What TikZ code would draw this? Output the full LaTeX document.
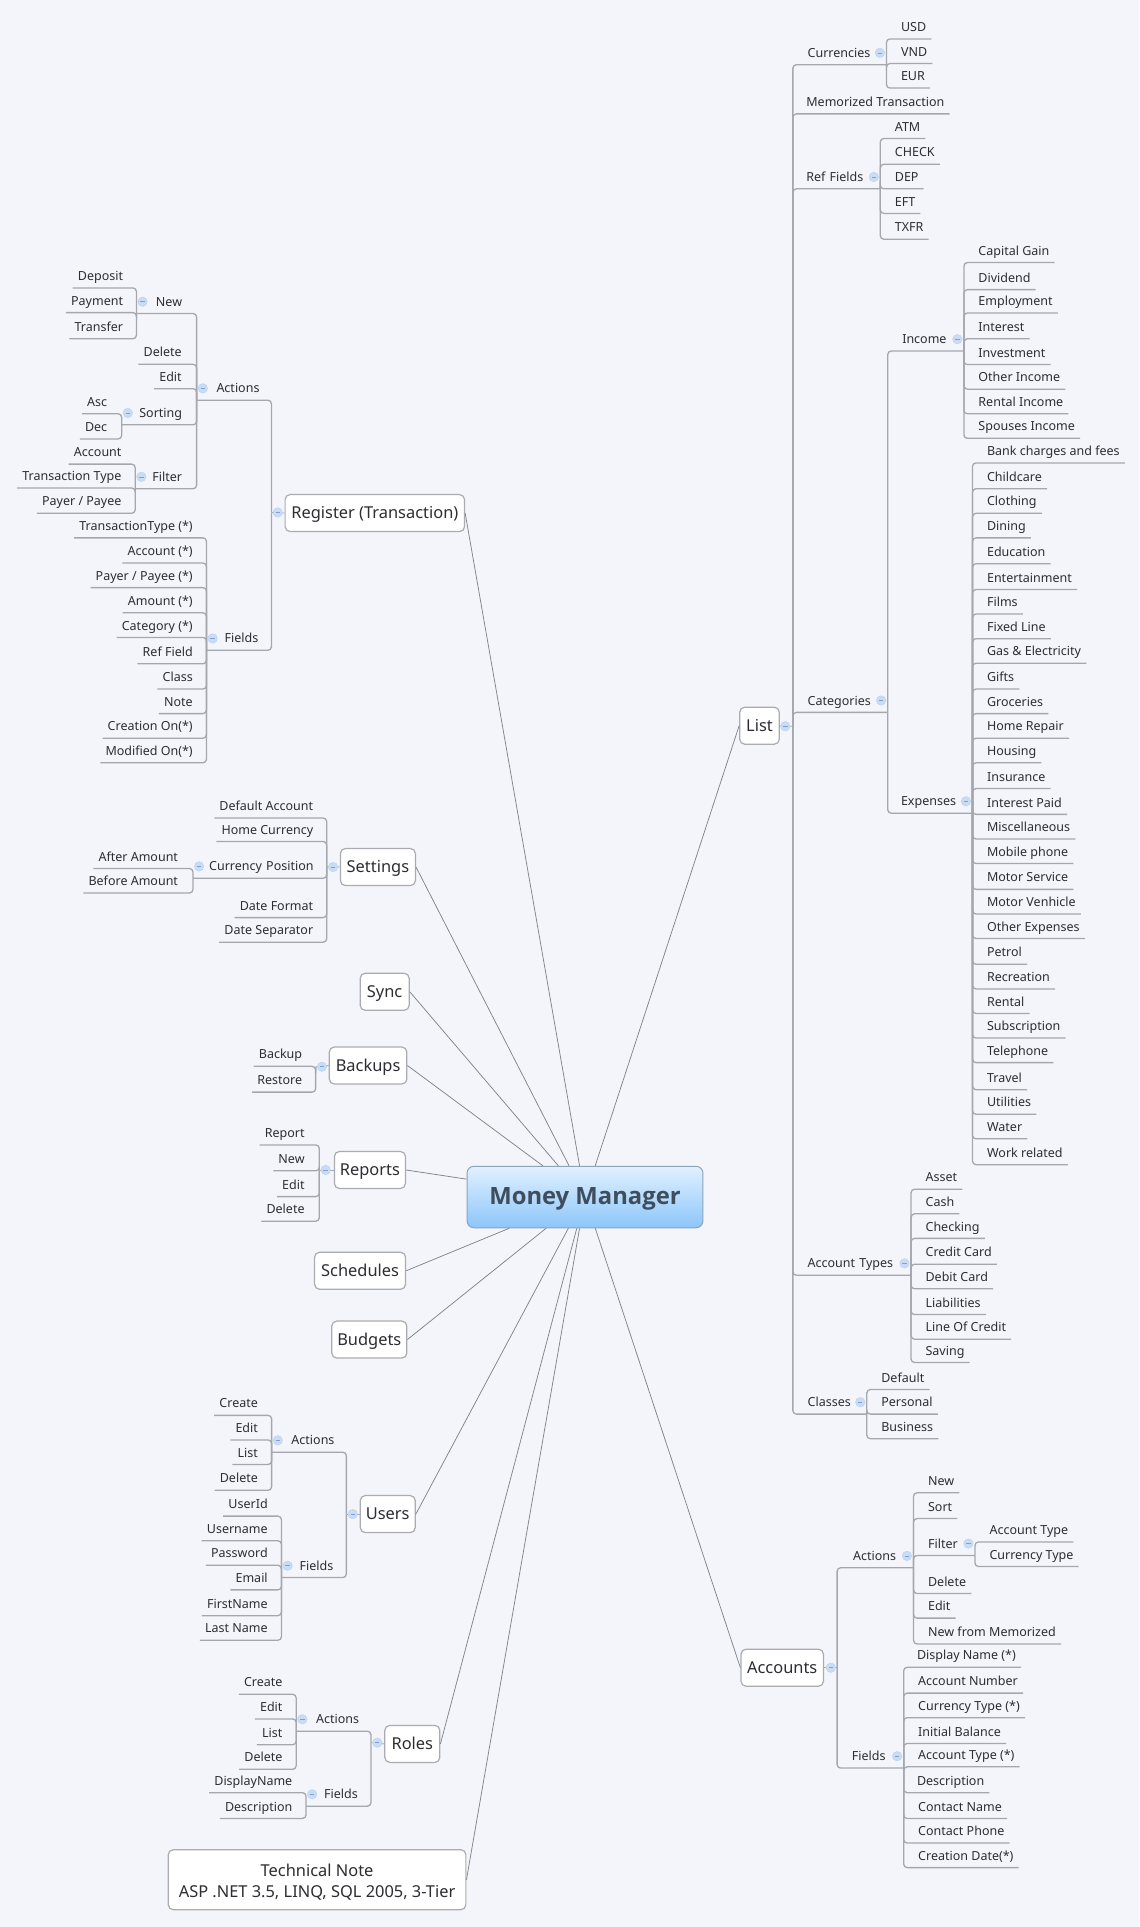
\documentclass[tikz,border=0pt]{standalone}
\usepackage{fontspec}
\setmainfont{Noto Sans}
\newfontfamily\rootfont{Open Sans}
\definecolor{bgc}{RGB}{243,245,250}
\definecolor{txt}{RGB}{45,45,50}
\definecolor{linkc}{RGB}{165,167,175}
\definecolor{spoke}{RGB}{130,132,140}
\definecolor{boxc}{RGB}{170,172,178}
\definecolor{rootb}{RGB}{140,165,185}
\definecolor{roott}{RGB}{62,78,92}
\definecolor{togf}{RGB}{200,220,245}
\definecolor{togd}{RGB}{185,208,238}
\definecolor{togm}{RGB}{130,160,205}
\definecolor{roottop}{RGB}{226,240,255}
\definecolor{rootbot}{RGB}{140,198,250}
\tikzset{
 link/.style={draw=linkc,line width=1.3pt,rounded corners=3.5pt},
 spokeline/.style={draw=spoke,line width=0.75pt},
 stublink/.style={draw=linkc,line width=0.8pt},
 lab/.style={inner xsep=5pt,inner ysep=0pt,minimum height=23.35pt,text height=11pt,text depth=2pt,font=\fontsize{12.5}{14}\selectfont,text=txt},
 parlab/.style={inner xsep=0pt,inner ysep=0pt,minimum height=23.35pt,text height=11pt,text depth=2pt,font=\fontsize{12.5}{14}\selectfont,text=txt},
 toggle/.style={circle,inner sep=0pt,minimum size=9.5pt,fill=togf,draw=togd,line width=0.4pt,
   path picture={\draw[togm,line width=0.5pt] ([xshift=-2.2pt]path picture bounding box.center) -- ([xshift=2.2pt]path picture bounding box.center);}},
 mainbox/.style={draw=boxc,line width=1.2pt,fill=white,rounded corners=5pt,inner sep=0pt,text=txt,align=center,font=\fontsize{16.4}{21.5}\selectfont},
 topic/.style={mainbox,text height=13.3pt,text depth=2pt,minimum height=37pt},
 rootbox/.style={draw=rootb,line width=1pt,rounded corners=7pt,top color=roottop,bottom color=rootbot,inner sep=0pt,text=roott,text height=18pt,text depth=3.6pt,font=\rootfont\fontsize{23.8}{28}\selectfont\bfseries},
 junction/.style={inner sep=0pt,minimum size=0pt},
}
\newcounter{leafno}
\newcommand{\Lleaf}[4]{\stepcounter{leafno}\node[lab,anchor=east] (n\arabic{leafno}) at ([xshift=5pt]#2,#3) {#4};
 \draw[link] (#1.south west) |- (n\arabic{leafno}.south west);}
\newcommand{\Rleaf}[4]{\stepcounter{leafno}\node[lab,anchor=west] (n\arabic{leafno}) at ([xshift=-5pt]#2,#3) {#4};
 \draw[link] (#1.south east) |- (n\arabic{leafno}.south east);}
\newcommand{\Lpar}[6]{\pgfmathsetmacro{\wdv}{(#4-#3)*1.2287}
 \node[parlab,anchor=west,text width=\wdv pt,align=right] (#2) at (#3,#5) {#6};
 \node[toggle] (#2t) at (#3+5,#5) {};
 \draw[link] (#1.south west) |- (#2.south west);}
\newcommand{\Rpar}[6]{\pgfmathsetmacro{\wdv}{(#4-#3)*1.2287}
 \node[parlab,anchor=west,text width=\wdv pt,align=left] (#2) at (#3,#5) {#6};
 \node[toggle] (#2t) at (#4-5,#5) {};
 \draw[link] (#1.south east) |- (#2.south east);}
\begin{document}
\begin{tikzpicture}[x=1.2287pt,y=-1.2287pt]
\useasboundingbox (0,0) rectangle (927,1568);
\fill[bgc] (0,0) rectangle (927,1568);
\node[rootbox,minimum width=235.9pt,minimum height=61.5pt] (root) at (476,974) {Money Manager};

% ---- top-level topics
\node[topic,minimum width=179.4pt] (reg) at (305,417.5) {Register (Transaction)};
\draw[spokeline] (root) -- (reg.east);
\node[topic,minimum width=75pt] (set) at (307.5,705.5) {Settings};
\draw[spokeline] (root) -- (set.east);
\node[topic,minimum width=49pt] (sync) at (313,807) {Sync};
\draw[spokeline] (root) -- (sync.east);
\node[topic,minimum width=77.5pt] (bak) at (299.5,867) {Backups};
\draw[spokeline] (root) -- (bak.east);
\node[topic,minimum width=71pt] (rep) at (301,952) {Reports};
\draw[spokeline] (root) -- (rep.east);
\node[topic,minimum width=91pt] (sch) at (293,1034) {Schedules};
\draw[spokeline] (root) -- (sch.east);
\node[topic,minimum width=75pt] (bud) at (300.5,1090) {Budgets};
\draw[spokeline] (root) -- (bud.east);
\node[topic,minimum width=55pt] (usr) at (315.5,1232) {Users};
\draw[spokeline] (root) -- (usr.east);
\node[topic,minimum width=55pt] (rol) at (335.5,1419) {Roles};
\draw[spokeline] (root) -- (rol.east);
\node[mainbox,minimum width=297.5pt,minimum height=60pt] (tech) at (258,1529.5) {\rule{0pt}{17pt}Technical Note\\ASP .NET 3.5, LINQ, SQL 2005, 3-Tier};
\draw[spokeline] (root) -- (tech.east);
\node[topic,minimum width=39.5pt] (list) at (618,590.5) {List};
\draw[spokeline] (root) -- (list.west);
\node[topic,minimum width=82.5pt] (acc) at (636.5,1357) {Accounts};
\draw[spokeline] (root) -- (acc.west);

% ---- junctions and toggles
\node[junction] (regK) at (221,417) {};
\node[junction] (setK) at (266,705) {};
\node[junction] (bakK) at (257,868) {};
\node[junction] (repK) at (260,952) {};
\node[junction] (usrK) at (282,1232) {};
\node[junction] (rolK) at (302,1418) {};
\node[junction] (lstK) at (645,591) {};
\node[junction] (accK) at (681,1357) {};
\draw[stublink] (reg.west) -- (regK);
\draw[stublink] (set.west) -- (setK);
\draw[stublink] (bak.west) -- (bakK);
\draw[stublink] (rep.west) -- (repK);
\draw[stublink] (usr.west) -- (usrK);
\draw[stublink] (rol.west) -- (rolK);
\draw[stublink] (list.east) -- (lstK);
\draw[stublink] (acc.east) -- (accK);
\node[toggle] (regT) at (226,417) {};
\node[toggle] (setT) at (271,705.5) {};
\node[toggle] (bakT) at (262,868) {};
\node[toggle] (repT) at (265,952) {};
\node[toggle] (usrT) at (287,1232) {};
\node[toggle] (rolT) at (307,1418) {};
\node[toggle] (lstT) at (639,591) {};
\node[toggle] (accT) at (676,1357) {};

% ---- Register
\Lpar{regK}{regA}{160}{211}{316}{Actions}
\Lpar{regA}{regAN}{111}{148}{245.5}{New}
\Lleaf{regAN}{100.3}{224.6}{Deposit}
\Lleaf{regAN}{100.3}{244.7}{Payment}
\Lleaf{regAN}{100.3}{266}{Transfer}
\Lleaf{regA}{148}{286.8}{Delete}
\Lleaf{regA}{148}{306.6}{Edit}
\Lpar{regA}{regAS}{99}{148}{336}{Sorting}
\Lleaf{regAS}{87.4}{327}{Asc}
\Lleaf{regAS}{87.4}{347.5}{Dec}
\Lpar{regA}{regAF}{110}{148}{388}{Filter}
\Lleaf{regAF}{99}{368}{Account}
\Lleaf{regAF}{99}{387.4}{Transaction Type}
\Lleaf{regAF}{99}{408}{Payer / Payee}
\Lpar{regK}{regF}{168}{210}{519.5}{Fields}
\Lleaf{regF}{157}{428}{TransactionType (*)}
\Lleaf{regF}{157}{448.5}{Account (*)}
\Lleaf{regF}{157}{468.5}{Payer / Payee (*)}
\Lleaf{regF}{157}{489}{Amount (*)}
\Lleaf{regF}{157}{509}{Category (*)}
\Lleaf{regF}{157}{530.5}{Ref Field}
\Lleaf{regF}{157}{551}{Class}
\Lleaf{regF}{157}{571}{Note}
\Lleaf{regF}{157}{591}{Creation On(*)}
\Lleaf{regF}{157}{611}{Modified On(*)}

% ---- Settings
\Lleaf{setK}{255}{656}{Default Account}
\Lleaf{setK}{255}{675}{Home Currency}
\Lpar{setK}{setC}{157}{255}{705}{Currency Position}
\Lleaf{setC}{145}{697}{After Amount}
\Lleaf{setC}{145}{717}{Before Amount}
\Lleaf{setK}{255}{737}{Date Format}
\Lleaf{setK}{255}{757}{Date Separator}

% ---- Backups
\Lleaf{bakK}{246}{858}{Backup}
\Lleaf{bakK}{246}{879}{Restore}

% ---- Reports
\Lleaf{repK}{248}{922}{Report}
\Lleaf{repK}{248}{943}{New}
\Lleaf{repK}{248}{964}{Edit}
\Lleaf{repK}{248}{984}{Delete}

% ---- Users
\Lpar{usrK}{usrA}{221}{272}{1172}{Actions}
\Lleaf{usrA}{210}{1142}{Create}
\Lleaf{usrA}{210}{1162}{Edit}
\Lleaf{usrA}{210}{1182}{List}
\Lleaf{usrA}{210}{1203}{Delete}
\Lpar{usrK}{usrF}{229}{271}{1274}{Fields}
\Lleaf{usrF}{218}{1224}{UserId}
\Lleaf{usrF}{218}{1244}{Username}
\Lleaf{usrF}{218}{1264}{Password}
\Lleaf{usrF}{218}{1284}{Email}
\Lleaf{usrF}{218}{1305}{FirstName}
\Lleaf{usrF}{218}{1325}{Last Name}

% ---- Roles
\Lpar{rolK}{rolA}{241}{292}{1399}{Actions}
\Lleaf{rolA}{230}{1369}{Create}
\Lleaf{rolA}{230}{1389}{Edit}
\Lleaf{rolA}{230}{1410}{List}
\Lleaf{rolA}{230}{1430}{Delete}
\Lpar{rolK}{rolF}{249}{291}{1460}{Fields}
\Lleaf{rolF}{238}{1449}{DisplayName}
\Lleaf{rolF}{238}{1470}{Description}

% ---- List
\Rpar{lstK}{lstC}{657}{721}{43}{Currencies}
\Rleaf{lstC}{733}{22}{USD}
\Rleaf{lstC}{733}{42}{VND}
\Rleaf{lstC}{733}{62}{EUR}
\Rleaf{lstK}{656}{83}{Memorized Transaction}
\Rpar{lstK}{lstR}{656}{716}{144}{Ref Fields}
\Rleaf{lstR}{728}{103}{ATM}
\Rleaf{lstR}{728}{124}{CHECK}
\Rleaf{lstR}{728}{144}{DEP}
\Rleaf{lstR}{728}{164}{EFT}
\Rleaf{lstR}{728}{185}{TXFR}
\Rpar{lstK}{lstG}{657}{722}{570}{Categories}
\Rpar{lstG}{lstI}{734}{784}{276}{Income}
\Rleaf{lstI}{796}{204}{Capital Gain}
\Rleaf{lstI}{796}{226}{Dividend}
\Rleaf{lstI}{796}{245}{Employment}
\Rleaf{lstI}{796}{266}{Interest}
\Rleaf{lstI}{796}{287}{Investment}
\Rleaf{lstI}{796}{307}{Other Income}
\Rleaf{lstI}{796}{327}{Rental Income}
\Rleaf{lstI}{796}{347}{Spouses Income}
\Rpar{lstG}{lstE}{733}{791}{652}{Expenses}
\Rleaf{lstE}{803}{367}{Bank charges and fees}
\Rleaf{lstE}{803}{388}{Childcare}
\Rleaf{lstE}{803}{408}{Clothing}
\Rleaf{lstE}{803}{428}{Dining}
\Rleaf{lstE}{803}{449}{Education}
\Rleaf{lstE}{803}{470}{Entertainment}
\Rleaf{lstE}{803}{490}{Films}
\Rleaf{lstE}{803}{510}{Fixed Line}
\Rleaf{lstE}{803}{530}{Gas \& Electricity}
\Rleaf{lstE}{803}{551}{Gifts}
\Rleaf{lstE}{803}{571}{Groceries}
\Rleaf{lstE}{803}{591}{Home Repair}
\Rleaf{lstE}{803}{611}{Housing}
\Rleaf{lstE}{803}{632}{Insurance}
\Rleaf{lstE}{803}{653}{Interest Paid}
\Rleaf{lstE}{803}{673}{Miscellaneous}
\Rleaf{lstE}{803}{693}{Mobile phone}
\Rleaf{lstE}{803}{714}{Motor Service}
\Rleaf{lstE}{803}{734}{Motor Venhicle}
\Rleaf{lstE}{803}{754}{Other Expenses}
\Rleaf{lstE}{803}{775}{Petrol}
\Rleaf{lstE}{803}{795}{Recreation}
\Rleaf{lstE}{803}{815}{Rental}
\Rleaf{lstE}{803}{835}{Subscription}
\Rleaf{lstE}{803}{855}{Telephone}
\Rleaf{lstE}{803}{877}{Travel}
\Rleaf{lstE}{803}{897}{Utilities}
\Rleaf{lstE}{803}{917}{Water}
\Rleaf{lstE}{803}{938}{Work related}
\Rpar{lstK}{lstT}{657}{741}{1028}{Account Types}
\Rleaf{lstT}{753}{958}{Asset}
\Rleaf{lstT}{753}{978}{Cash}
\Rleaf{lstT}{753}{998}{Checking}
\Rleaf{lstT}{753}{1019}{Credit Card}
\Rleaf{lstT}{753}{1039}{Debit Card}
\Rleaf{lstT}{753}{1060}{Liabilities}
\Rleaf{lstT}{753}{1080}{Line Of Credit}
\Rleaf{lstT}{753}{1099}{Saving}
\Rpar{lstK}{lstL}{657}{705}{1141}{Classes}
\Rleaf{lstL}{717}{1121}{Default}
\Rleaf{lstL}{717}{1141}{Personal}
\Rleaf{lstL}{717}{1161}{Business}

% ---- Accounts
\Rpar{accK}{accA}{694}{743}{1266}{Actions}
\Rleaf{accA}{755}{1205}{New}
\Rleaf{accA}{755}{1226}{Sort}
\Rpar{accA}{accAF}{755}{793}{1256}{Filter}
\Rleaf{accAF}{805}{1245}{Account Type}
\Rleaf{accAF}{805}{1265}{Currency Type}
\Rleaf{accA}{755}{1287}{Delete}
\Rleaf{accA}{755}{1307}{Edit}
\Rleaf{accA}{755}{1328}{New from Memorized}
\Rpar{accK}{accF}{693}{735}{1429}{Fields}
\Rleaf{accF}{746}{1347}{Display Name (*)}
\Rleaf{accF}{747}{1368}{Account Number}
\Rleaf{accF}{747}{1388}{Currency Type (*)}
\Rleaf{accF}{747}{1409}{Initial Balance}
\Rleaf{accF}{747}{1428}{Account Type (*)}
\Rleaf{accF}{746}{1449}{Description}
\Rleaf{accF}{747}{1470}{Contact Name}
\Rleaf{accF}{747}{1490}{Contact Phone}
\Rleaf{accF}{747}{1510}{Creation Date(*)}
\end{tikzpicture}
\end{document}
